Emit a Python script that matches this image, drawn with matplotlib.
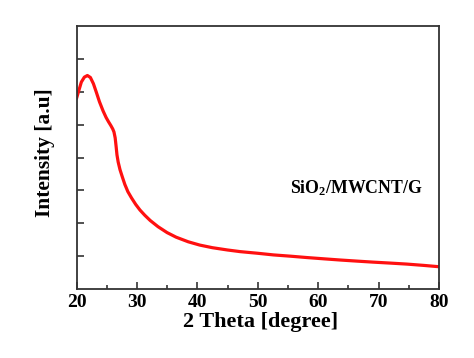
import matplotlib
matplotlib.use("Agg")
import matplotlib.pyplot as plt

two_theta = [20.0, 20.4, 20.8, 21.3, 21.8, 22.3, 22.8, 23.3, 23.8, 24.4, 24.9, 25.3, 25.7,
             26.0, 26.2, 26.4, 26.55, 26.7, 26.9, 27.2, 27.6, 28.0, 28.5, 29.1, 29.8,
             30.5, 31.3, 32.2, 33.5, 35.0, 36.5, 38.5, 40.4, 42.5, 45.0, 47.1, 50.0,
             52.6, 55.5, 58.1, 61.0, 63.6, 66.5, 69.1, 72.0, 74.7, 77.5, 80.0]
intensity = [5.8, 6.05, 6.3, 6.45, 6.5, 6.44, 6.25, 5.98, 5.7, 5.42, 5.22, 5.09, 4.97,
             4.87, 4.78, 4.6, 4.35, 4.08, 3.86, 3.63, 3.4, 3.18, 2.96, 2.77, 2.57,
             2.4, 2.24, 2.08, 1.89, 1.71, 1.57, 1.43, 1.33, 1.25, 1.18, 1.13, 1.08,
             1.03, 0.99, 0.95, 0.91, 0.875, 0.84, 0.81, 0.78, 0.75, 0.71, 0.67]
x_ticks = [20, 30, 40, 50, 60, 70, 80]
sample_label = "SiO$_2$/MWCNT/G"

plt.rcParams['font.family'] = ['Liberation Serif', 'DejaVu Serif']
plt.rcParams['mathtext.fontset'] = 'custom'
plt.rcParams['mathtext.rm'] = 'Liberation Serif:bold'
plt.rcParams['mathtext.it'] = 'Liberation Serif:bold'
plt.rcParams['mathtext.bf'] = 'Liberation Serif:bold'

fig = plt.figure(figsize=(4.74, 3.58), dpi=100)
ax = fig.add_axes([0.1614, 0.1936, 0.7646, 0.7329])
ax.plot(two_theta, intensity, color='#ff1010', lw=2.3, solid_capstyle='round',
        solid_joinstyle='round')

ax.set_xlim(20, 80)
ax.set_ylim(0, 8)
ax.set_xticks(x_ticks)
ax.set_xticks([25, 35, 45, 55, 65, 75], minor=True)
ax.set_yticks([1, 2, 3, 4, 5, 6, 7])
ax.set_yticklabels([])
ax.tick_params(axis='both', which='major', direction='in', length=5, width=1.2,
               color='#333333', top=False, right=False)
ax.tick_params(axis='x', which='minor', direction='in', length=3, width=1.2,
               color='#333333', top=False)
ax.tick_params(axis='x', labelsize=14, pad=4)
for lab in ax.get_xticklabels():
    lab.set_fontweight('bold')
for s in ax.spines.values():
    s.set_linewidth(1.3)
    s.set_color('#333333')

ax.set_xlabel('2 Theta [degree]', fontsize=16, fontweight='bold')
ax.set_ylabel('Intensity [a.u]', fontsize=15.5, fontweight='bold')
ax.xaxis.set_label_coords(0.509, -0.090)
ax.yaxis.set_label_coords(-0.059, 0.519)
ax.text(66.4, 3.06, sample_label, fontsize=12.8, fontweight='bold', ha='center', va='center')

fig.savefig('out.png', dpi=100)
